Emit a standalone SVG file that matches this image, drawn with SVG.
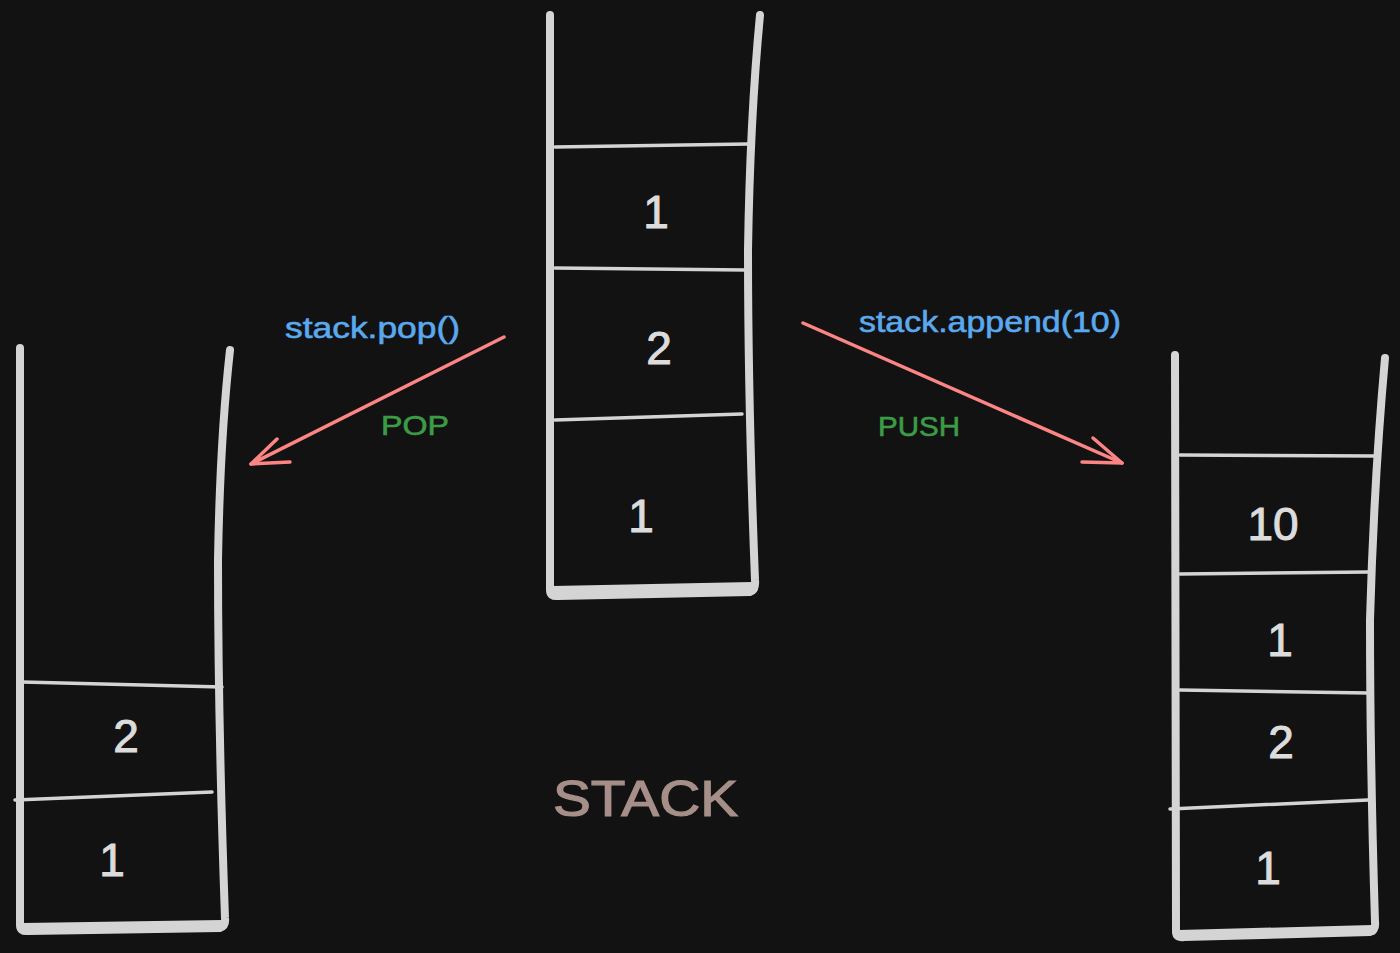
<svg xmlns="http://www.w3.org/2000/svg" width="1400" height="953" viewBox="0 0 1400 953">
<defs>
<style>
.wall{fill:none;stroke:#d4d4d4;stroke-width:8;stroke-linecap:round;stroke-linejoin:round}
.div{fill:none;stroke:#d4d4d4;stroke-width:3.5;stroke-linecap:round}
.num{fill:#dcdcdc;stroke:#dcdcdc;stroke-width:1;font-family:"Liberation Sans",Arial,sans-serif;font-size:46px;text-anchor:middle}
.code{fill:#5aa9ee;stroke:#5aa9ee;stroke-width:0.6;font-family:"Liberation Sans",Arial,sans-serif;font-size:30px}
.op{fill:#3c9c46;stroke:#3c9c46;stroke-width:0.6;font-family:"Liberation Sans",Arial,sans-serif;font-size:28px}
.arrow{fill:none;stroke:#ff8585;stroke-width:3.5;stroke-linecap:round;stroke-linejoin:round}
.title{fill:#a58f88;stroke:#a58f88;stroke-width:1.2;font-family:"Liberation Sans",Arial,sans-serif;font-size:50px}
</style>
</defs>
<rect width="1400" height="953" fill="#121212"/>

<g id="stack-middle">
<path class="wall" d="M550,15 L550,590 Q550,597 558,596 L750,592 Q756,590 755,580 Q748,400 748,250 Q750,120 760,15"/>
<path d="M553,592 L752,588" stroke="#d4d4d4" stroke-width="12" fill="none" stroke-linecap="round"/>
<line class="div" x1="555" y1="147" x2="748" y2="144"/>
<line class="div" x1="555" y1="268" x2="745" y2="270"/>
<line class="div" x1="555" y1="420" x2="742" y2="414"/>
<text class="num" x="656" y="228">1</text>
<text class="num" x="659" y="364">2</text>
<text class="num" x="641" y="532">1</text>
</g>

<g id="stack-left">
<path class="wall" d="M20,348 L20,925 Q20,932 28,931 L220,928 Q226,926 225,918 Q218,720 218,560 Q220,440 230,350"/>
<path d="M23,928 L222,925" stroke="#d4d4d4" stroke-width="10" fill="none" stroke-linecap="round"/>
<line class="div" x1="22" y1="682" x2="222" y2="687"/>
<line class="div" x1="15" y1="800" x2="212" y2="792"/>
<text class="num" x="126" y="752">2</text>
<text class="num" x="112" y="876">1</text>
</g>

<g id="stack-right">
<path class="wall" d="M1175,355 L1176,932 Q1176,938 1184,937 L1370,932 Q1376,930 1375,922 Q1370,760 1370,620 Q1374,480 1385,358"/>
<path d="M1179,935 L1372,930" stroke="#d4d4d4" stroke-width="10" fill="none" stroke-linecap="round"/>
<line class="div" x1="1180" y1="455" x2="1375" y2="456"/>
<line class="div" x1="1180" y1="574" x2="1368" y2="572"/>
<line class="div" x1="1180" y1="690" x2="1368" y2="693"/>
<line class="div" x1="1170" y1="809" x2="1368" y2="800"/>
<text class="num" x="1273" y="540" font-size="40">10</text>
<text class="num" x="1280" y="656">1</text>
<text class="num" x="1281" y="758">2</text>
<text class="num" x="1268" y="884">1</text>
</g>

<g id="connectors">
<path class="arrow" d="M504,337 L251,464"/>
<path class="arrow" d="M277,439 L251,464 L290,462"/>
<path class="arrow" d="M803,323 L1122,463"/>
<path class="arrow" d="M1093,438 L1122,463 L1082,462"/>
</g>

<g id="labels">
<text class="code" x="285" y="338" textLength="175" lengthAdjust="spacingAndGlyphs">stack.pop()</text>
<text class="op" x="381" y="435" textLength="68" lengthAdjust="spacingAndGlyphs">POP</text>
<text class="code" x="859" y="332" textLength="262" lengthAdjust="spacingAndGlyphs">stack.append(10)</text>
<text class="op" x="878" y="436" textLength="82" lengthAdjust="spacingAndGlyphs">PUSH</text>
<text class="title" x="553" y="816" textLength="185" lengthAdjust="spacingAndGlyphs">STACK</text>
</g>
</svg>
